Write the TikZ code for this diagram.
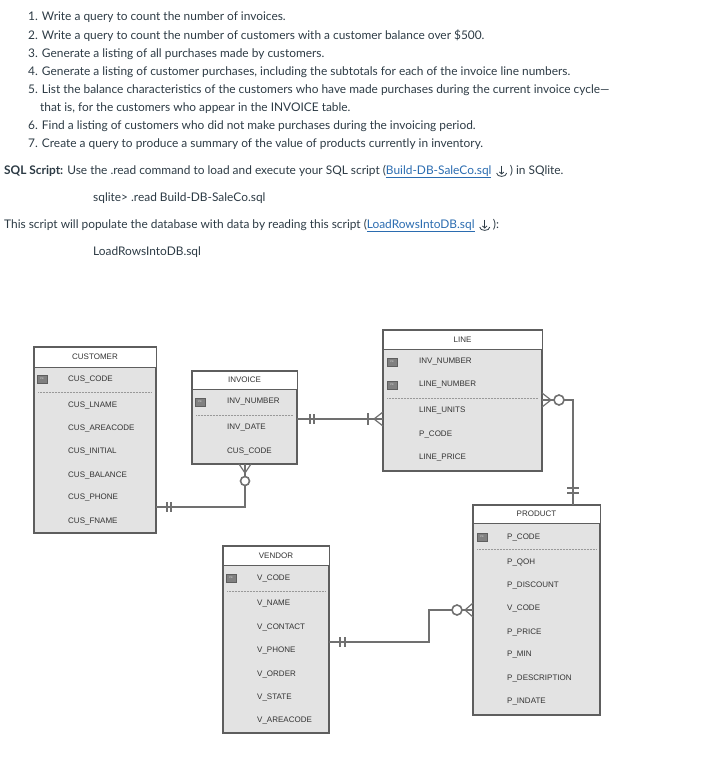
\documentclass[tikz,border=0pt]{standalone}
\usepackage{fontspec}
\setmainfont{Lato}
\newfontfamily\erfont{Liberation Sans}
\usetikzlibrary{positioning,arrows.meta}

\definecolor{txt}{HTML}{2D3B45}
\definecolor{linkblue}{HTML}{2B6CB0}
\definecolor{boxfill}{HTML}{E3E3E3}
\definecolor{boxline}{HTML}{5E5E5E}
\definecolor{relline}{HTML}{707070}
\definecolor{ertext}{HTML}{333333}
\definecolor{pkfill}{HTML}{808080}

\tikzset{
  para/.style={anchor=base west, inner sep=0pt, text=txt,
    font=\fontsize{11.9}{14}\selectfont},
  erbody/.style={draw=boxline, line width=1.3pt, fill=boxfill,
    anchor=north west, inner sep=0pt, outer sep=0pt},
  erhead/.style={draw=boxline, line width=0.5pt, fill=white,
    anchor=north west, inner sep=0pt, outer sep=0pt, text=ertext,
    font=\erfont\fontsize{8}{9}\selectfont},
  field/.style={anchor=west, inner sep=0pt, text=ertext,
    font=\erfont\fontsize{8}{9}\selectfont},
  pkey/.style={draw=boxline, fill=pkfill, line width=0.5pt,
    minimum width=10pt, minimum height=8pt, inner sep=0pt,
    text=white!80!gray, font=\erfont\fontsize{2.5}{3}\selectfont},
  sep/.style={draw=gray!80, densely dotted, line width=0.5pt},
  rel/.style={draw=relline, line width=1.6pt},
  bar/.style={draw=relline, line width=1.2pt},
  icon/.style={draw=txt, line width=0.8pt},
}

\begin{document}
\begin{tikzpicture}[x=1pt,y=-1pt]
  \useasboundingbox (0,0) rectangle (708,784);
  % exercise list
  \node[para] (q1) at (28,21) {1. Write a query to count the number of invoices.};
  \node[para] (q2) at (28,39.5) {2. Write a query to count the number of customers with a customer balance over \$500.};
  \node[para] (q3) at (28,57.5) {3. Generate a listing of all purchases made by customers.};
  \node[para] (q4) at (28,75.5) {4. Generate a listing of customer purchases, including the subtotals for each of the invoice line numbers.};
  \node[para] (q5) at (28,93.5) {5. List the balance characteristics of the customers who have made purchases during the current invoice cycle---};
  \node[para] (q5b) at (40,111.5) {that is, for the customers who appear in the INVOICE table.};
  \node[para] (q6) at (28,129.5) {6. Find a listing of customers who did not make purchases during the invoicing period.};
  \node[para] (q7) at (28,147.5) {7. Create a query to produce a summary of the value of products currently in inventory.};
  % script notes
  \node[para] (sqlnote) at (4,174) {\textbf{SQL Script:} Use the .read command to load and execute your SQL script (\textcolor{linkblue}{\underline{Build-DB-SaleCo.sql}}};
  \coordinate (sqlicon) at ([xshift=10pt]sqlnote.base east);
  \draw[icon,-{Straight Barb[length=2pt,width=4.5pt]}] (sqlicon) ++(0,-8.5) -- ++(0,9);
  \draw[icon] (sqlicon) ++(-5,-1) .. controls +(0,4.5) and +(0,4.5) .. ++(10,0);
  \node[para] (sqlend) at ([xshift=8pt]sqlicon) {) in SQlite.};
  \node[para] (sqlcmd) at (93,201) {sqlite> .read Build-DB-SaleCo.sql};
  \node[para] (loadnote) at (4,228) {This script will populate the database with data by reading this script (\textcolor{linkblue}{\underline{LoadRowsIntoDB.sql}}};
  \coordinate (loadicon) at ([xshift=10pt]loadnote.base east);
  \draw[icon,-{Straight Barb[length=2pt,width=4.5pt]}] (loadicon) ++(0,-8.5) -- ++(0,9);
  \draw[icon] (loadicon) ++(-5,-1) .. controls +(0,4.5) and +(0,4.5) .. ++(10,0);
  \node[para] (loadend) at ([xshift=8pt]loadicon) {):};
  \node[para] (loadcmd) at (93,255) {LoadRowsIntoDB.sql};

  % CUSTOMER
  \node[erbody, minimum width=122pt, minimum height=186pt] (customer) at (34,347) {};
  \node[erhead, minimum width=122pt, minimum height=20pt] (customer head) at (34,347) {CUSTOMER};
  \node[pkey] (cus pk) at (42,379) {PK};
  \node[field] (cus code) at (68,379) {CUS\_CODE};
  \draw[sep] (38,392) -- (152,392);
  \node[field] (cus lname) at (68,405) {CUS\_LNAME};
  \node[field] (cus areacode) at (68,428) {CUS\_AREACODE};
  \node[field] (cus initial) at (68,451) {CUS\_INITIAL};
  \node[field] (cus balance) at (68,475) {CUS\_BALANCE};
  \node[field] (cus phone) at (68,497) {CUS\_PHONE};
  \node[field] (cus fname) at (68,521) {CUS\_FNAME};

  % INVOICE
  \node[erbody, minimum width=105pt, minimum height=93pt] (invoice) at (192,371) {};
  \node[erhead, minimum width=105pt, minimum height=18pt] (invoice head) at (192,371) {INVOICE};
  \node[pkey] (inv pk) at (200,402) {PK};
  \node[field] (inv number) at (227,402) {INV\_NUMBER};
  \draw[sep] (196,415) -- (293,415);
  \node[field] (inv date) at (227,428) {INV\_DATE};
  \node[field] (inv cuscode) at (227,451) {CUS\_CODE};

  % LINE
  \node[erbody, minimum width=159pt, minimum height=141pt] (line) at (383,330) {};
  \node[erhead, minimum width=159pt, minimum height=19pt] (line head) at (383,330) {LINE};
  \node[pkey] (line pk1) at (392,362) {PK};
  \node[pkey] (line pk2) at (392,385) {PK};
  \node[field] (line invnumber) at (419,362) {INV\_NUMBER};
  \node[field] (line number) at (419,385) {LINE\_NUMBER};
  \draw[sep] (387,398) -- (538,398);
  \node[field] (line units) at (419,410) {LINE\_UNITS};
  \node[field] (line pcode) at (419,434) {P\_CODE};
  \node[field] (line price) at (419,457) {LINE\_PRICE};

  % PRODUCT
  \node[erbody, minimum width=127pt, minimum height=210pt] (product) at (473,505) {};
  \node[erhead, minimum width=127pt, minimum height=18pt] (product head) at (473,505) {PRODUCT};
  \node[pkey] (p pk) at (482,537) {PK};
  \node[field] (p code) at (507,537) {P\_CODE};
  \draw[sep] (477,549) -- (596,549);
  \node[field] (p qoh) at (507,562) {P\_QOH};
  \node[field] (p discount) at (507,585) {P\_DISCOUNT};
  \node[field] (p vcode) at (507,608) {V\_CODE};
  \node[field] (p price) at (507,632) {P\_PRICE};
  \node[field] (p min) at (507,655) {P\_MIN};
  \node[field] (p description) at (507,678) {P\_DESCRIPTION};
  \node[field] (p indate) at (507,702) {P\_INDATE};

  % VENDOR
  \node[erbody, minimum width=106pt, minimum height=187pt] (vendor) at (223,546) {};
  \node[erhead, minimum width=106pt, minimum height=19pt] (vendor head) at (223,546) {VENDOR};
  \node[pkey] (v pk) at (231,578) {PK};
  \node[field] (v code) at (257,578) {V\_CODE};
  \draw[sep] (227,591) -- (325,591);
  \node[field] (v name) at (257,604) {V\_NAME};
  \node[field] (v contact) at (257,627) {V\_CONTACT};
  \node[field] (v phone) at (257,650) {V\_PHONE};
  \node[field] (v order) at (257,674) {V\_ORDER};
  \node[field] (v state) at (257,697) {V\_STATE};
  \node[field] (v areacode) at (257,720) {V\_AREACODE};

  % relationships
  \coordinate (cus rel) at (customer.east |- 0,507);
  \coordinate (inv rel) at (245,464);
  \draw[rel] (cus rel) -| (inv rel);
  \draw[bar] (167,502) -- (167,512) (171,502) -- (171,512);
  \draw[bar] (245,473) -- (239,464) (245,473) -- (251,464);
  \draw[rel, fill=white] (245,481) circle (4.5);

  \coordinate (inv out) at (invoice.east |- 0,419);
  \coordinate (line in) at (line.west |- 0,419);
  \draw[rel] (inv out) -- (line in);
  \draw[bar] (310,414) -- (310,424) (314,414) -- (314,424);
  \draw[bar] (368,413) -- (368,425);
  \draw[bar] (374,419) -- (line.west |- 0,412) (374,419) -- (line.west |- 0,426);

  \coordinate (line out) at (line.east |- 0,400);
  \coordinate (prod in) at (573,505);
  \draw[rel] (line out) -- (573,400) -- (prod in);
  \draw[bar] (551,400) -- (line.east |- 0,393) (551,400) -- (line.east |- 0,407);
  \draw[rel, fill=white] (559,400) circle (5);
  \draw[bar] (567,488) -- (579,488) (567,493) -- (579,493);

  \coordinate (prod vin) at (product.west |- 0,610);
  \coordinate (vend out) at (vendor.east |- 0,642);
  \draw[rel] (prod vin) -- (429,610) |- (vend out);
  \draw[bar] (465,610) -- (product.west |- 0,603) (465,610) -- (product.west |- 0,617);
  \draw[rel, fill=white] (457,610) circle (5);
  \draw[bar] (340,637) -- (340,647) (345,637) -- (345,647);
\end{tikzpicture}
\end{document}
